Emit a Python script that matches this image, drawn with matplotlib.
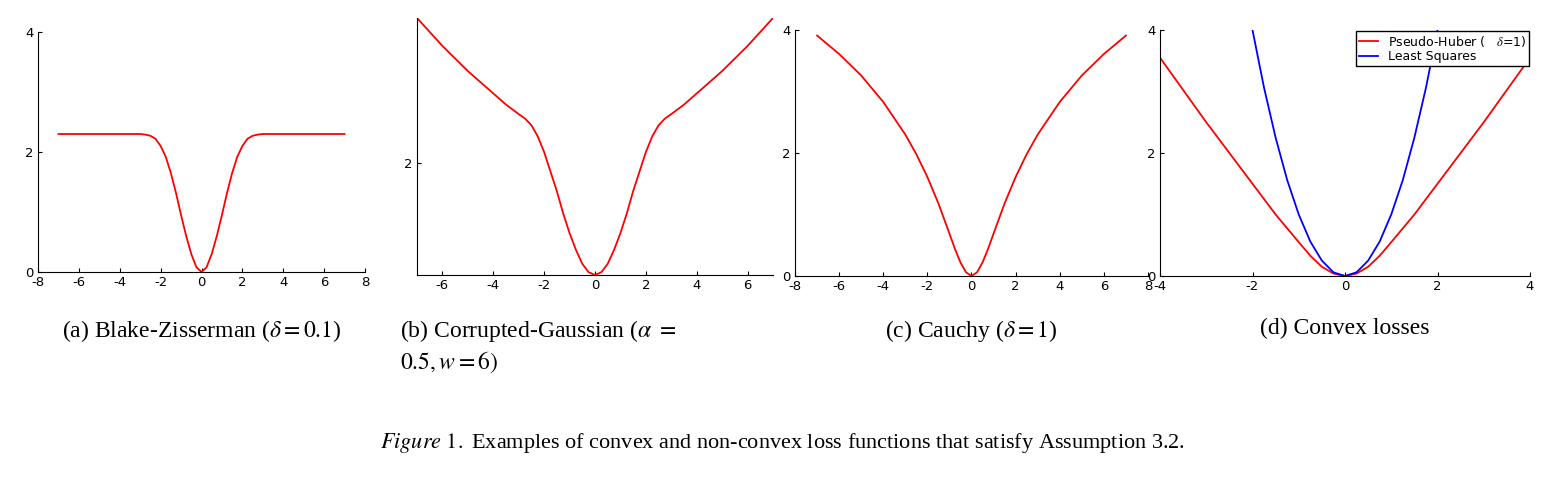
import matplotlib
matplotlib.use("Agg")
import matplotlib.pyplot as plt

plt.rcParams['mathtext.fontset'] = 'stix'
plt.rcParams['axes.unicode_minus'] = False

# values
bz_x = [-7, -4, -3, -2.75, -2.5, -2.25, -2, -1.75, -1.5, -1.25, -1, -0.75, -0.5, -0.25, 0,
        0.25, 0.5, 0.75, 1, 1.25, 1.5, 1.75, 2, 2.25, 2.5, 2.75, 3, 4, 7]
bz_y = [2.3, 2.3, 2.3, 2.29, 2.27, 2.22, 2.1, 1.92, 1.65, 1.32, 0.95, 0.6, 0.3, 0.08, 0,
        0.08, 0.3, 0.6, 0.95, 1.32, 1.65, 1.92, 2.1, 2.22, 2.27, 2.29, 2.3, 2.3, 2.3]

cg_x = [-7, -6, -5, -4, -3.5, -3, -2.75, -2.5, -2.25, -2, -1.75, -1.5, -1.25, -1, -0.75, -0.5, -0.25, 0,
        0.25, 0.5, 0.75, 1, 1.25, 1.5, 1.75, 2, 2.25, 2.5, 2.75, 3, 3.5, 4, 5, 6, 7]
cg_y = [4.6, 4.1, 3.65, 3.25, 3.05, 2.88, 2.8, 2.68, 2.48, 2.2, 1.85, 1.5, 1.1, 0.75, 0.45, 0.2, 0.05, 0,
        0.05, 0.2, 0.45, 0.75, 1.1, 1.5, 1.85, 2.2, 2.48, 2.68, 2.8, 2.88, 3.05, 3.25, 3.65, 4.1, 4.6]

ca_x = [-7, -6, -5, -4, -3, -2.5, -2, -1.5, -1, -0.75, -0.5, -0.25, 0,
        0.25, 0.5, 0.75, 1, 1.5, 2, 2.5, 3, 4, 5, 6, 7]
ca_y = [3.91, 3.61, 3.26, 2.83, 2.3, 1.98, 1.61, 1.18, 0.69, 0.44, 0.22, 0.06, 0,
        0.06, 0.22, 0.44, 0.69, 1.18, 1.61, 1.98, 2.3, 2.83, 3.26, 3.61, 3.91]

ph_x = [-4, -3, -2, -1.5, -1, -0.75, -0.5, -0.25, 0, 0.25, 0.5, 0.75, 1, 1.5, 2, 3, 4]
ph_y = [3.55, 2.5, 1.5, 1.0, 0.55, 0.33, 0.15, 0.04, 0, 0.04, 0.15, 0.33, 0.55, 1.0, 1.5, 2.5, 3.55]

ls_x = [-2, -1.75, -1.5, -1.25, -1, -0.75, -0.5, -0.25, 0, 0.25, 0.5, 0.75, 1, 1.25, 1.5, 1.75, 2]
ls_y = [4, 3.06, 2.25, 1.56, 1, 0.56, 0.25, 0.06, 0, 0.06, 0.25, 0.56, 1, 1.56, 2.25, 3.06, 4]

captions = [r'(a) Blake-Zisserman ($\delta = 0.1$)',
            '(b) Corrupted-Gaussian ($\\alpha\\ =$\n$0.5, w = 6)$',
            r'(c) Cauchy ($\delta = 1$)',
            '(d) Convex losses']

fig = plt.figure(figsize=(15.66, 4.78), dpi=100)
W, H = 1566, 478
boxes = [(38, 32, 365, 272), (417, 18, 773, 275), (795, 30, 1148, 276), (1160, 30, 1530, 276)]
axes = []
for l, t, r, b in boxes:
    ax = fig.add_axes([l / W, 1 - b / H, (r - l) / W, (b - t) / H])
    ax.spines['top'].set_visible(False)
    ax.spines['right'].set_visible(False)
    ax.tick_params(direction='in', labelsize=9.5, length=3, pad=3)
    axes.append(ax)

ax = axes[0]
ax.plot(bz_x, bz_y, color='red', lw=1.3)
ax.set_xlim(-8, 8)
ax.set_ylim(0, 4)
ax.set_xticks(range(-8, 9, 2))
ax.set_yticks([0, 2, 4])

ax = axes[1]
ax.plot(cg_x, cg_y, color='red', lw=1.3)
ax.set_xlim(-7, 7)
ax.set_ylim(0, 4.6)
ax.set_xticks(range(-6, 7, 2))
ax.set_yticks([2])

ax = axes[2]
ax.plot(ca_x, ca_y, color='red', lw=1.3)
ax.set_xlim(-8, 8)
ax.set_ylim(0, 4)
ax.set_xticks(range(-8, 9, 2))
ax.set_yticks([0, 2, 4])

ax = axes[3]
ax.plot(ph_x, ph_y, color='red', lw=1.3, label=r'Pseudo-Huber (   $\delta$=1)')
ax.plot(ls_x, ls_y, color='blue', lw=1.3, label='Least Squares')
ax.set_xlim(-4, 4)
ax.set_ylim(0, 4)
ax.set_xticks(range(-4, 5, 2))
ax.set_yticks([0, 2, 4])
leg = ax.legend(loc='upper right', fontsize=9, fancybox=False, framealpha=1,
                borderpad=0.2, handlelength=1.5, labelspacing=0.1, borderaxespad=0.1)
leg.get_frame().set_edgecolor('black')

cap_x = [38, 400, 795, 1160]
cap_w = [365 - 38, 373, 353, 370]
for i, c in enumerate(captions):
    if i == 1:
        fig.text(cap_x[i] / W, 1 - 318 / H, c, fontsize=17, family='Liberation Serif',
                 ha='left', va='top', linespacing=1.3)
    else:
        fig.text((cap_x[i] + cap_w[i] / 2) / W, 1 - 318 / H, c, fontsize=17,
                 family='Liberation Serif', ha='center', va='top')

fig.text(0.5, 1 - 443 / H, r'$\it{Figure\ 1.}$ Examples of convex and non-convex loss functions that satisfy Assumption 3.2.',
         fontsize=16, family='Liberation Serif', ha='center', va='center')

fig.savefig('out.png', dpi=100)
